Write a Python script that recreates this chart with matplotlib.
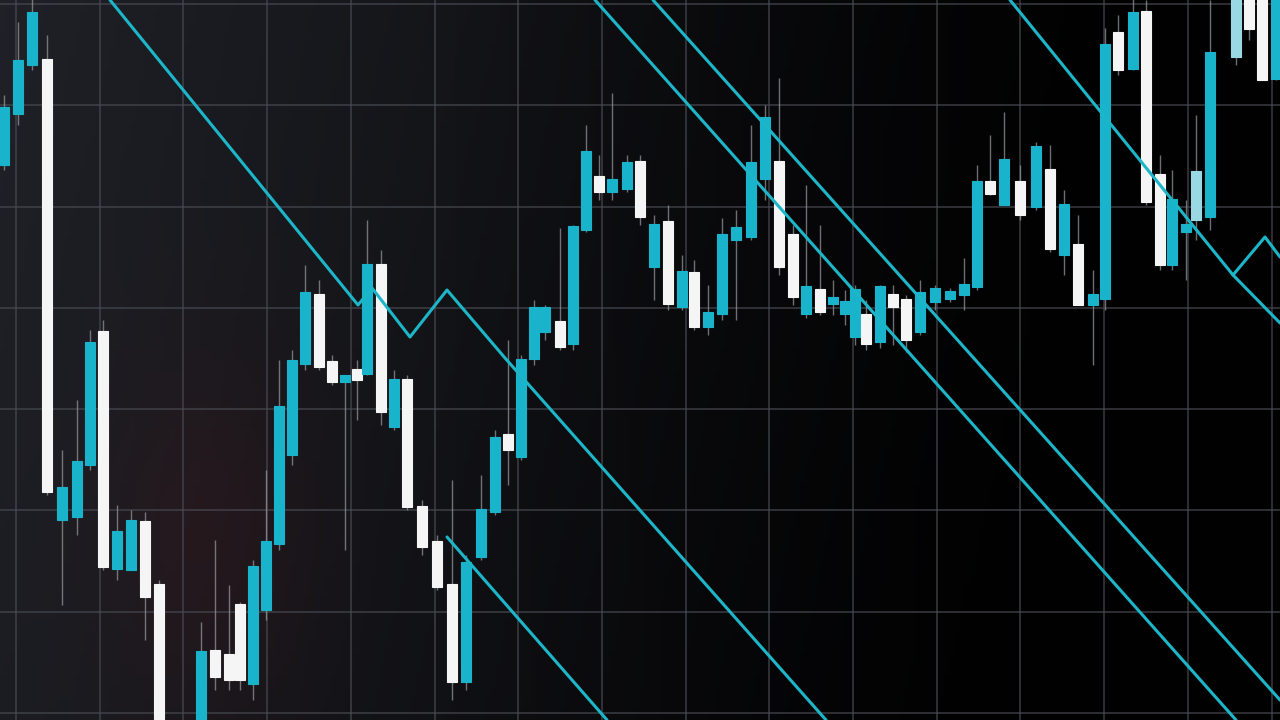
import numpy as np
import matplotlib.pyplot as plt

# candle time positions and OHLC (price units)
t = [4, 18, 32, 47, 62, 77, 90, 103, 117, 131, 145, 159, 201, 215, 229, 240,
     253, 266, 279, 292, 305, 319, 332, 345, 357, 367, 381, 394, 407, 422, 437,
     452, 466, 481, 495, 508, 521, 534, 545, 560, 573, 586, 599, 612, 627, 640,
     654, 668, 682, 694, 708, 722, 736, 751, 765, 779, 793, 806, 820, 833, 845,
     855, 866, 880, 893, 906, 920, 935, 950, 964, 977, 990, 1004, 1020, 1036,
     1050, 1064, 1078, 1093, 1105, 1118, 1133, 1146, 1160, 1172, 1186, 1196,
     1210, 1236, 1249, 1262, 1276]
opens = [557, 608, 657, 660, 202, 205, 257, 388, 153, 152, 198, 135, -10, 69,
         65, 115, 38, 112, 178, 267, 358, 425, 358, 340, 350, 348, 455, 295,
         340, 213, 178, 135, 40, 165, 210, 285, 265, 363, 390, 398, 378, 492,
         543, 530, 533, 558, 455, 498, 415, 447, 395, 408, 482, 485, 543, 558,
         485, 408, 430, 418, 408, 385, 405, 380, 425, 420, 390, 420, 423, 427,
         435, 538, 517, 538, 515, 550, 467, 475, 417, 423, 687, 653, 708, 545,
         457, 490, 502, 505, 665, 730, 730, 643]
closes = [612, 659, 707, 230, 232, 258, 377, 155, 188, 199, 125, -10, 68, 45,
          42, 42, 153, 178, 313, 359, 427, 355, 340, 344, 342, 455, 310, 340,
          215, 175, 135, 40, 157, 210, 282, 272, 360, 412, 412, 375, 493, 568,
          530, 540, 557, 505, 495, 418, 448, 395, 407, 485, 492, 557, 602, 455,
          425, 433, 410, 422, 418, 430, 378, 433, 415, 382, 427, 431, 428, 435,
          538, 528, 560, 507, 573, 473, 515, 417, 425, 675, 652, 707, 520, 457,
          520, 495, 548, 667, 730, 693, 642, 730]
highs = [625, 698, 730, 685, 270, 320, 390, 400, 215, 210, 208, 140, 98, 180,
         135, 118, 160, 250, 360, 370, 455, 440, 365, 345, 360, 500, 470, 350,
         345, 220, 185, 240, 165, 245, 290, 380, 365, 420, 415, 492, 495, 595,
         565, 627, 565, 565, 505, 515, 465, 460, 435, 502, 510, 595, 615, 642,
         495, 535, 495, 440, 430, 435, 420, 435, 435, 425, 440, 435, 432, 462,
         555, 585, 608, 555, 578, 575, 530, 505, 450, 692, 705, 725, 720, 565,
         550, 520, 605, 720, 740, 740, 740, 740]
lows = [550, 595, 650, 225, 115, 185, 250, 150, 140, 150, 80, -20, -20, 30,
        30, 30, 20, 100, 170, 255, 350, 350, 335, 170, 300, 345, 295, 290, 210,
        165, 130, 20, 30, 160, 205, 235, 260, 355, 380, 370, 370, 488, 520, 520,
        528, 495, 420, 410, 410, 390, 385, 400, 400, 480, 520, 445, 415, 402,
        405, 405, 395, 375, 370, 372, 375, 368, 385, 410, 418, 410, 430, 525,
        515, 500, 510, 468, 445, 415, 355, 410, 645, 650, 515, 450, 450, 440,
        480, 490, 655, 680, 640, 640]
light = [58, 64, 86, 88]  # paler cyan candles (index)

# trend lines drawn over the chart (t, price)
line_a_t = [110, 358, 372, 410, 447, 505, 826]
line_a_p = [720, 415, 432, 383, 430, 362, 0]
line_b_t = [447, 607]
line_b_p = [183, 0]
line_c_t = [595, 1236]
line_c_p = [720, 0]
line_d_t = [653, 1280]
line_d_p = [720, 20]
line_e_t = [1010, 1233, 1280]
line_e_p = [720, 445, 397]
line_f_t = [1233, 1265, 1280]
line_f_p = [445, 483, 463]

CYAN = '#19b4cc'
LIGHT = '#9ad8e4'
WHITE = '#f5f5f5'

fig = plt.figure(figsize=(12.8, 7.2), dpi=100)
ax = fig.add_axes([0, 0, 1, 1])

# background: slate on the left fading to black on the right
gx = np.linspace(0, 1, 256)
gy = np.linspace(0, 1, 64)
X, Y = np.meshgrid(gx, gy)
left = np.array([0.125, 0.13, 0.155])
right = np.array([0.015, 0.015, 0.02])
k = np.clip(X * 1.15 + (1 - Y) * 0.15, 0, 1)[..., None]
bg = left * (1 - k) + right * k
# faint red glow low on the left
glow = np.exp(-(((X - 0.16) / 0.08) ** 2 + ((Y - 0.25) / 0.25) ** 2))
bg[..., 0] += 0.05 * glow
ax.imshow(bg, extent=[0, 1280, 0, 720], origin='lower', aspect='auto', zorder=0)

ax.set_xlim(0, 1280)
ax.set_ylim(0, 720)
ax.set_xticks(np.arange(16, 1280, 83.7))
ax.set_yticks(np.arange(7, 720, 101.3))
ax.grid(True, color='#4a4d55', linewidth=1.2, alpha=0.7, zorder=1)
ax.tick_params(length=0, labelbottom=False, labelleft=False)
for s in ax.spines.values():
    s.set_visible(False)

# dim the grid toward the right edge
shade = np.zeros((64, 256, 4))
shade[..., 3] = np.clip((X - 0.35) * 1.1, 0, 0.6) + np.clip(Y - 0.9, 0, 1) * 0
ax.imshow(shade, extent=[0, 1280, 0, 720], origin='lower', aspect='auto', zorder=1.5)

o = np.array(opens)
c = np.array(closes)
up = c >= o
colors = [(LIGHT if i in light else CYAN) if u else WHITE for i, u in enumerate(up)]

ax.vlines(t, lows, highs, color='#9a9ca0', linewidth=1, alpha=0.7, zorder=2)
ax.bar(t, np.abs(c - o) + 3, bottom=np.minimum(o, c) - 1.5, width=10,
       color=colors, edgecolor=colors, linewidth=0.8, zorder=3)

for lt, lp in [(line_a_t, line_a_p), (line_b_t, line_b_p), (line_c_t, line_c_p),
               (line_d_t, line_d_p), (line_e_t, line_e_p), (line_f_t, line_f_p)]:
    ax.plot(lt, lp, color='#1cb6c8', linewidth=2.2, zorder=4, solid_capstyle='round')

plt.savefig('out.png', dpi=100)
